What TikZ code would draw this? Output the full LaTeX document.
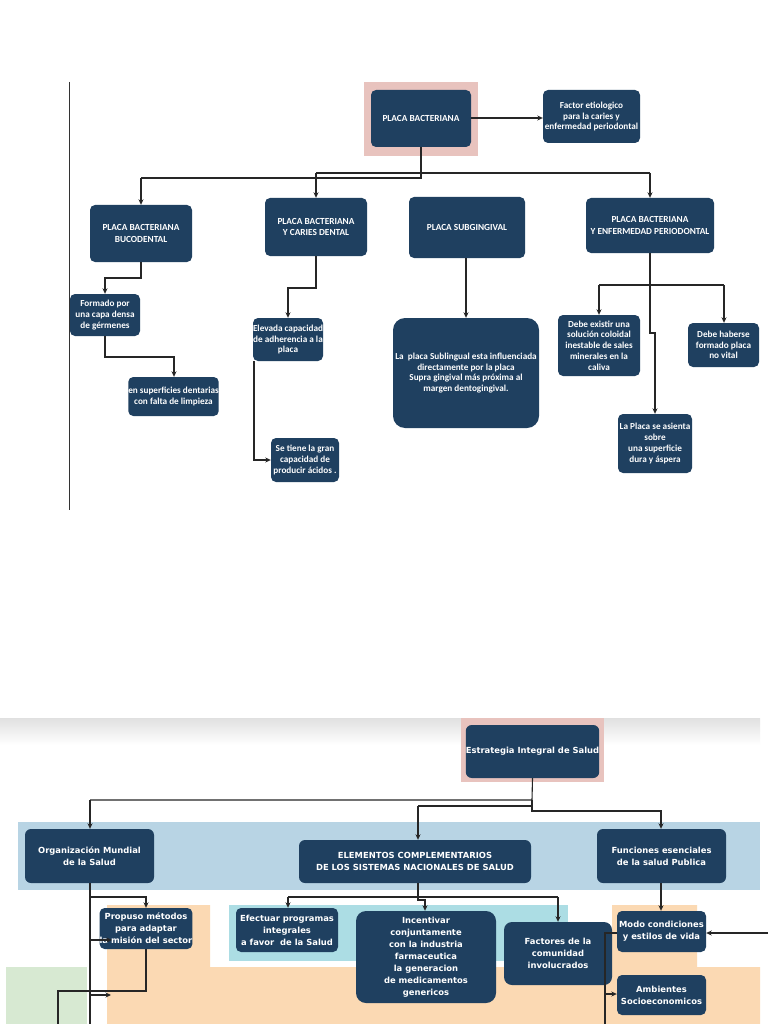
\documentclass[tikz,border=0pt]{standalone}
\usepackage{fontspec}
\setmainfont{Carlito}
\newfontfamily\vfont{DejaVu Sans}
\usetikzlibrary{arrows.meta}
\definecolor{navy}{HTML}{1F4060}
\definecolor{pinkbg}{HTML}{E8C3BE}
\definecolor{bandblue}{HTML}{B8D4E4}
\definecolor{cyanbg}{HTML}{ACDDE4}
\definecolor{peach}{HTML}{FBD9B3}
\definecolor{greenbg}{HTML}{D7E9D2}
\begin{document}
\begin{tikzpicture}[x=1pt,y=-1pt,
  tbox/.style={fill=navy, rounded corners=5pt, text=white, font=\fontsize{9.2}{10.8}\selectfont\bfseries, align=center, inner sep=0pt},
  ttitle/.style={tbox, font=\fontsize{9.3}{11.5}\selectfont\bfseries},
  bbox/.style={fill=navy, rounded corners=6pt, text=white, font=\vfont\fontsize{8.4}{12}\selectfont\bfseries, align=center, inner sep=0pt},
  con/.style={draw=black!85, line width=1.1pt},
  arr/.style={con, -{Stealth[length=5.5pt,width=5pt]}}]
\useasboundingbox (0,0) rectangle (768,1024);
\fill[white] (0,0) rectangle (768,1024);

% ===== TOP DIAGRAM =====
\draw[black!80, line width=1pt] (69,82) -- (69,510);
\fill[pinkbg] (364,82) rectangle (478,156);
\node[ttitle, minimum width=100pt, minimum height=57pt] (pb) at (421,118.5) {PLACA BACTERIANA};
\node[tbox, minimum width=97pt, minimum height=53pt] (fe) at (591.5,116.5) {Factor etiologico\\para la caries y\\enfermedad periodontal};
\node[ttitle, minimum width=102pt, minimum height=57pt] (buc) at (141,233.5) {PLACA BACTERIANA\\BUCODENTAL};
\node[ttitle, minimum width=102pt, minimum height=58pt] (car) at (316,227) {PLACA BACTERIANA\\Y CARIES DENTAL};
\node[ttitle, minimum width=116pt, minimum height=61pt] (sub) at (467,227.5) {PLACA SUBGINGIVAL};
\node[ttitle, minimum width=128pt, minimum height=55pt] (per) at (650,225.5) {PLACA BACTERIANA\\Y ENFERMEDAD PERIODONTAL};
\node[tbox, minimum width=70pt, minimum height=42pt] (form) at (105,315) {Formado por\\una capa densa\\de gérmenes};
\node[tbox, minimum width=89pt, minimum height=39pt] (sup) at (173.5,396.5) {en superficies dentarias\\con falta de limpieza};
\node[tbox, minimum width=70pt, minimum height=43pt] (elev) at (288,339.5) {Elevada capacidad\\de adherencia a la\\placa};
\node[tbox, minimum width=68pt, minimum height=44pt] (acid) at (305,460) {Se tiene la gran\\capacidad de\\producir ácidos .};
\node[tbox, rounded corners=12pt, minimum width=146pt, minimum height=110pt] (subt) at (466,373) {La\ \ placa Sublingual esta influenciada\\directamente por la placa\\Supra gingival más próxima al\\margen dentogingival.};
\node[tbox, minimum width=82pt, minimum height=61pt] (exist) at (599,345.5) {Debe existir una\\solución coloidal\\inestable de sales\\minerales en la\\caliva};
\node[tbox, minimum width=71pt, minimum height=44pt] (hab) at (723.5,345) {Debe haberse\\formado placa\\no vital};
\node[tbox, minimum width=74pt, minimum height=59pt] (asien) at (655,443.5) {La Placa se asienta\\sobre\\una superficie\\dura y áspera};

\draw[arr] (pb.east |- 0,118) -- (fe.west |- 0,118);
\draw[con] (pb.south) -- (421,178) -- (141,178);
\draw[arr] (141,178) -- (buc.north);
\draw[con] (316,173) -- (650,173);
\draw[arr] (316,173) -- (car.north);
\draw[arr] (650,173) -- (per.north);
\draw[arr] (buc.south) -- (141,278) -- (105,278) -- (form.north);
\draw[arr] (form.south) -- (105,357) -- (174,357) -- (sup.north -| 174,0);
\draw[arr] (car.south) -- (316,288) -- (288,288) -- (elev.north);
\draw[arr] (254,361) -- (254,460) -- (acid.west);
\draw[arr] (sub.south -| 466,0) -- (subt.north);
\draw[con] (per.south) -- (650,285);
\draw[con] (599,285) -- (724,285);
\draw[arr] (599,285) -- (exist.north);
\draw[arr] (724,285) -- (hab.north -| 724,0);
\draw[arr] (650,285) -- (650,333) -- (655,333) -- (asien.north);

% ===== BOTTOM DIAGRAM =====
\shade[top color=black!12, bottom color=white] (0,718) rectangle (760,745);
\fill[bandblue] (18,822) rectangle (760,890);
\fill[peach] (107,905) -- (210,905) -- (210,967) -- (612,967) -- (612,905) -- (697,905) -- (697,967) -- (760,967) -- (760,1024) -- (107,1024) -- cycle;
\fill[cyanbg] (229,905) rectangle (568,961);
\fill[greenbg] (6,967) rectangle (87,1024);
\fill[pinkbg] (461,718) rectangle (604,782);

\node[bbox, minimum width=131pt, minimum height=53pt] (eis) at (532.5,751.5) {Estrategia Integral de Salud};
\node[bbox, minimum width=129pt, minimum height=54pt] (oms) at (89.5,856) {Organización Mundial\\de la Salud};
\node[bbox, minimum width=232pt, minimum height=43pt] (elem) at (415,861.5) {ELEMENTOS COMPLEMENTARIOS\\DE LOS SISTEMAS NACIONALES DE SALUD};
\node[bbox, minimum width=129pt, minimum height=54pt] (fun) at (661.5,856) {Funciones esenciales\\de la salud Publica};
\node[bbox, rounded corners=5pt, minimum width=88pt, minimum height=41pt] (prop) at (146,928.5) {Propuso métodos\\para adaptar\\la misión del sector};
\node[bbox, rounded corners=5pt, minimum width=102pt, minimum height=44pt] (efec) at (287,930) {Efectuar programas\\integrales\\a favor\ \ de la Salud};
\node[bbox, rounded corners=10pt, minimum width=140pt, minimum height=92pt] (inc) at (426,957) {Incentivar\\conjuntamente\\con la industria\\farmaceutica\\la generacion\\de medicamentos\\genericos};
\node[bbox, rounded corners=8pt, minimum width=108pt, minimum height=63pt] (fac) at (558,953.5) {Factores de la\\comunidad\\involucrados};
\node[bbox, rounded corners=5pt, minimum width=89pt, minimum height=41pt] (modo) at (661.5,931.5) {Modo condiciones\\y estilos de vida};
\node[bbox, rounded corners=5pt, minimum width=89pt, minimum height=40pt] (amb) at (661.5,995) {Ambientes\\Socioeconomicos};

\draw[con] (eis.south) -- (532,800) -- (90,800);
\draw[arr] (90,800) -- (oms.north -| 90,0);
\draw[con] (418,806) -- (532,806);
\draw[arr] (418,806) -- (elem.north -| 418,0);
\draw[arr] (532,800) -- (532,811) -- (661,811) -- (fun.north -| 661,0);

\draw[con] (oms.south -| 90,0) -- (90,1024);
\draw[arr] (90,897) -- (146,897) -- (prop.north);
\draw[arr] (90,940) -- (112,940);
\draw[arr] (90,995) -- (111,995);
\draw[con] (prop.south) -- (146,991) -- (58,991) -- (58,1024);

\draw[con] (elem.south -| 418,0) -- (418,897);
\draw[con] (288,897) -- (558,897);
\draw[arr] (288,897) -- (efec.north -| 288,0);
\draw[arr] (558,897) -- (fac.north);
\draw[arr] (418,897) -- (418,900) -- (425,900) -- (inc.north -| 425,0);
\draw[arr] (fun.south -| 661,0) -- (modo.north -| 661,0);
\draw[arr] (768,933) -- (modo.east |- 0,933);
\draw[con] (modo.west |- 0,933) -- (605,933) -- (605,1024);
\draw[arr] (605,994) -- (amb.west |- 0,994);
\end{tikzpicture}
\end{document}
